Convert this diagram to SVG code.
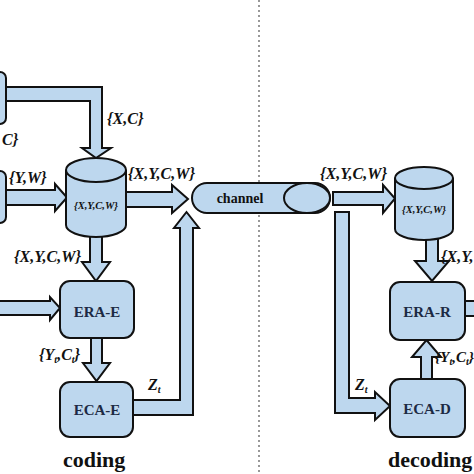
<svg xmlns="http://www.w3.org/2000/svg" width="474" height="474" viewBox="0 0 474 474">
<style>
.s{fill:#bdd7ee;stroke:#111;stroke-width:2;stroke-linejoin:miter}
.ln{fill:none;stroke:#111;stroke-width:2}
.lb{font-family:"Liberation Serif",serif;font-weight:bold;font-style:italic;font-size:16px;fill:#111}
.sm{font-family:"Liberation Serif",serif;font-weight:bold;font-style:italic;font-size:10.5px;fill:#111}
.bx{font-family:"Liberation Serif",serif;font-weight:bold;font-size:15px;fill:#1c2a44;text-anchor:middle}
.ti{font-family:"Liberation Serif",serif;font-weight:bold;font-size:22px;fill:#111}
</style>
<rect width="474" height="474" fill="#fff"/>
<line x1="259" y1="0" x2="259" y2="474" stroke="#777" stroke-width="1.5" stroke-dasharray="2,3"/>
<g id="connectors">
<path class="s" d="M5,87 H102 V148 H111 L96,158 L82,148 H90 V101 H5 Z"/>
<path class="s" d="M5,190 H55 V184 L67,197.5 L55,211 V205 H5 Z"/>
<path class="s" d="M126,192 H172 V185 L188,199 L172,213 V207 H126 Z"/>
<path class="s" d="M133,400 H180 V228 H174 L186.5,212 L199,228 H193 V415 H133 Z"/>
<path class="s" d="M90,234 H102 V262 H110 L96,281 L82,262 H90 Z"/>
<path class="s" d="M-5,301 H50 V297 L60,308 L50,320 V315 H-5 Z"/>
<path class="s" d="M91,338 H102 V363 H110 L96.5,381 L83,363 H91 Z"/>
<path class="s" d="M333,192 H383 V185 L395,198.5 L383,213 V205 H333 Z"/>
<path class="s" d="M426,236 H438 V261 H449 L432,281 L415,261 H426 Z"/>
<path class="s" d="M421,379 V357 H412 L426.5,340 L441,357 H432 V379 Z"/>
<path class="s" d="M465,301 H480 V316 H465 Z"/>
<path class="s" d="M335,212 H349 V398 H375 V392 L390,406 L375,420 V413 H335 Z"/>
</g>
<g id="src1"><rect class="s" x="-20" y="72" width="26" height="52" rx="6"/></g>
<g id="src2"><rect class="s" x="-20" y="171" width="26" height="52" rx="6"/></g>
<g id="db-coding">
<path class="s" d="M66,170 A30,12 0 0,1 126,170 V225 A30,12 0 0,1 66,225 Z"/>
<path class="ln" d="M66,170 A30,12 0 0,0 126,170"/>
<text class="sm" x="96" y="209" text-anchor="middle">{X,Y,C,W}</text>
</g>
<g id="era-e"><rect class="s" x="60" y="281" width="74" height="57" rx="10"/><text class="bx" x="97" y="317">ERA-E</text></g>
<g id="eca-e"><rect class="s" x="60" y="382" width="73" height="55" rx="10"/><text class="bx" x="97" y="415">ECA-E</text></g>
<g id="channel">
<rect class="s" x="192" y="183" width="138" height="30" rx="15"/>
<ellipse class="s" cx="307" cy="198" rx="23" ry="15"/>
<text class="bx" x="240" y="203" style="fill:#111;font-size:14px">channel</text>
</g>
<g id="db-decoding">
<path class="s" d="M395,178 A29,11 0 0,1 453,178 V229 A29,11 0 0,1 395,229 Z"/>
<path class="ln" d="M395,178 A29,11 0 0,0 453,178"/>
<text class="sm" x="424" y="213" text-anchor="middle">{X,Y,C,W}</text>
</g>
<g id="era-r"><rect class="s" x="390" y="282" width="75" height="58" rx="10"/><text class="bx" x="427" y="317">ERA-R</text></g>
<g id="eca-d"><rect class="s" x="390" y="379" width="75" height="58" rx="10"/><text class="bx" x="427" y="414">ECA-D</text></g>
<g id="labels">
<text class="lb" x="107" y="124">{X,C}</text>
<text class="lb" x="2" y="145">C}</text>
<text class="lb" x="9" y="183">{Y,W}</text>
<text class="lb" x="128" y="179">{X,Y,C,W}</text>
<text class="lb" x="14" y="262">{X,Y,C,W}</text>
<text class="lb" x="39" y="360">{Y<tspan font-size="10" dy="3">t</tspan><tspan dy="-3">,C</tspan><tspan font-size="10" dy="3">t</tspan><tspan dy="-3">}</tspan></text>
<text class="lb" x="148" y="390">Z<tspan font-size="10" dy="3">t</tspan></text>
<text class="lb" x="320" y="179">{X,Y,C,W}</text>
<text class="lb" x="441" y="262">{X,Y,</text>
<text class="lb" x="435" y="362" style="font-size:15px">{Y<tspan font-size="10" dy="3">t</tspan><tspan dy="-3">,C</tspan><tspan font-size="10" dy="3">t</tspan><tspan dy="-3">}</tspan></text>
<text class="lb" x="355" y="390">Z<tspan font-size="10" dy="3">t</tspan></text>
<text class="ti" x="63" y="467">coding</text>
<text class="ti" x="388" y="467">decoding</text>
</g>
</svg>
